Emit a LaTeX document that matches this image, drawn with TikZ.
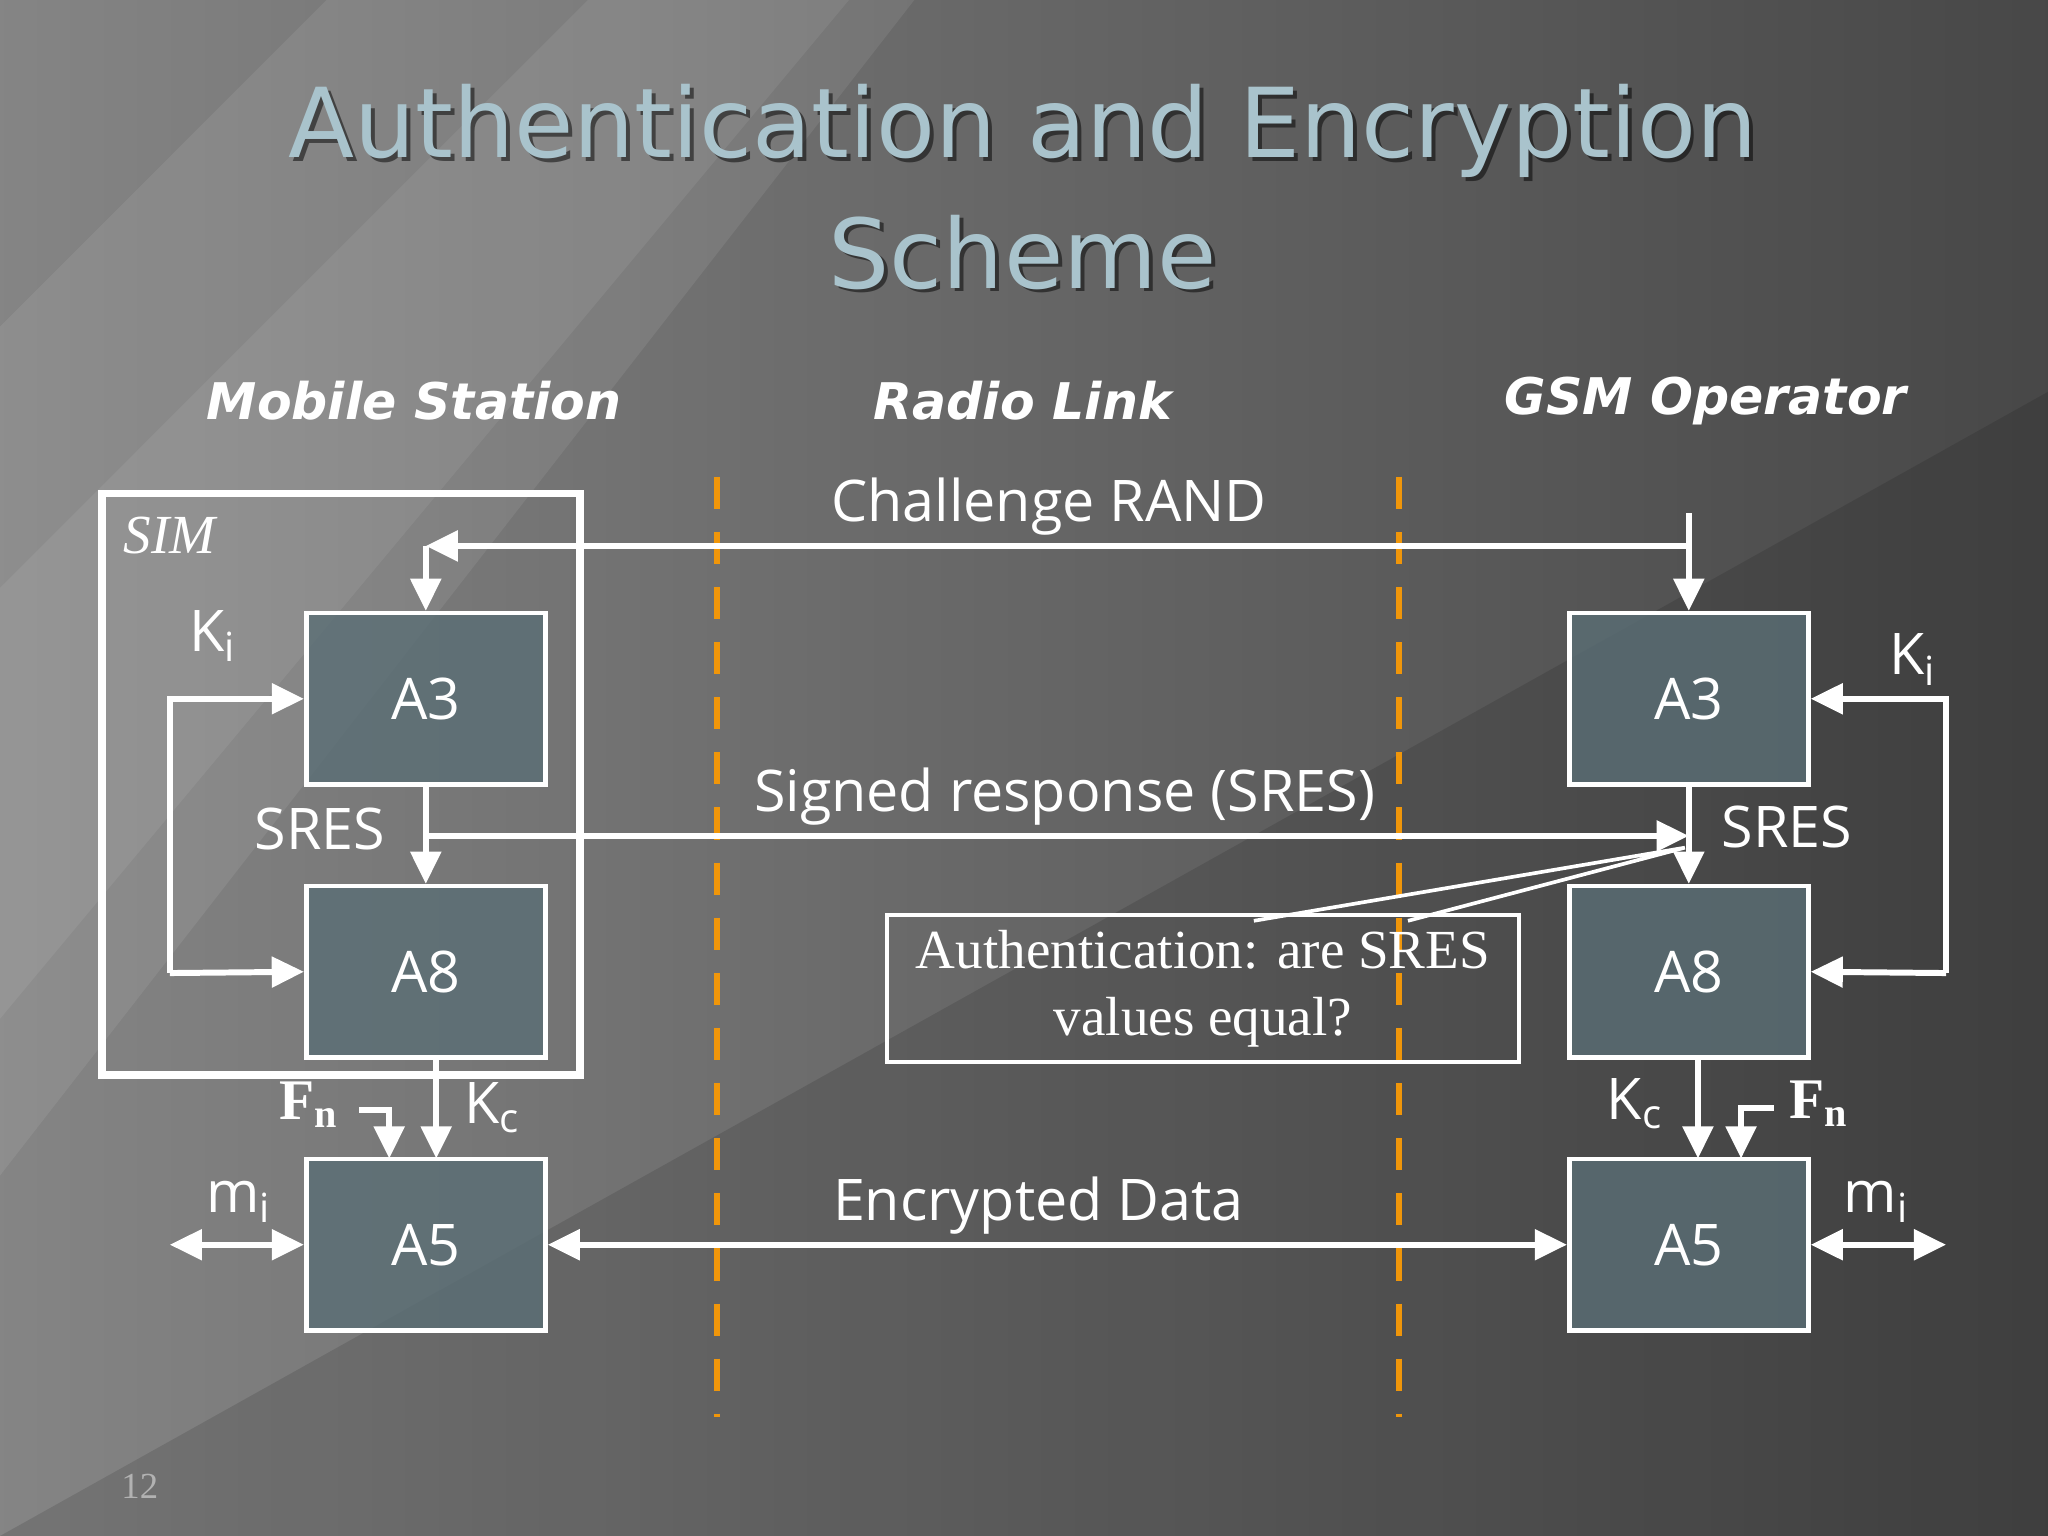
\documentclass[tikz,border=0pt]{standalone}
\usepackage{fontspec}
\setmainfont{Open Sans}
\newfontfamily\ttl{DejaVu Sans}
\newfontfamily\hdr{DejaVu Sans}
\newfontfamily\srf{Liberation Serif}
\usetikzlibrary{arrows.meta,shadows}
\definecolor{boxf}{HTML}{5A6E75}
\definecolor{ttlc}{HTML}{A9C3CC}
\definecolor{org}{HTML}{F0960A}
\begin{document}
\begin{tikzpicture}[x=0.01cm,y=-0.01cm,
  blk/.style={draw=white,line width=1pt,fill=boxf,fill opacity=0.8,text opacity=1,text=white,minimum width=1.83cm,minimum height=1.31cm,font=\fontsize{12.5}{15}\selectfont},
  ln/.style={draw=white,line width=1.3pt},
  ar/.style={ln,-{Triangle[length=7pt,width=6.5pt]}},
  dar/.style={ln,{Triangle[length=7pt,width=6.5pt]}-{Triangle[length=7pt,width=6.5pt]}},
  lbl/.style={text=white,font=\fontsize{12.5}{15}\selectfont},
  hd/.style={text=white,font=\hdr\bfseries\itshape\fontsize{11}{13}\selectfont},
  dsh/.style={draw=org,line width=1.3pt,dash pattern=on 7pt off 5pt}]
\useasboundingbox (0,0) rectangle (1568,1176);
\shade[left color=black!48,right color=black!72] (0,0) rectangle (1568,1176);
\fill[white,opacity=0.08] (0,250) -- (250,0) -- (700,0) -- (0,900) -- cycle;
\fill[white,opacity=0.07] (0,450) -- (450,0) -- (650,0) -- (0,780) -- cycle;
\fill[black,opacity=0.12] (0,1176) -- (1568,300) -- (1568,1176) -- cycle;
% title
\foreach \dx/\c/\o in {3/black/0.5,0/ttlc/1}{
 \node[text=\c,opacity=\o,font=\ttl\fontsize{21}{25}\selectfont] at (783+\dx,100+\dx) {Authentication and Encryption};
 \node[text=\c,opacity=\o,font=\ttl\fontsize{21}{25}\selectfont] at (783+\dx,193+\dx) {Scheme};}
\node[hd] (h1) at (317,307) {Mobile Station};
\node[hd] (h2) at (783,307) {Radio Link};
\node[hd] (h3) at (1306,307) {GSM Operator};
% dashed lines
\draw[dsh] (549,365) -- (549,1085);
\draw[dsh] (1071,365) -- (1071,1085);
% SIM
\draw[white,line width=1.6pt] (78,378) rectangle (444,823);
\node[text=white,font=\srf\itshape\fontsize{12}{14}\selectfont] (sim) at (130,410) {SIM};
% blocks
\node[blk] (a3l) at (326,535) {A3};
\node[blk] (a8l) at (326,744) {A8};
\node[blk] (a5l) at (326,953) {A5};
\node[blk] (a3r) at (1293,535) {A3};
\node[blk] (a8r) at (1293,744) {A8};
\node[blk] (a5r) at (1293,953) {A5};
% challenge
\coordinate (cs) at (1293,393);
\coordinate (cj) at (1293,418);
\coordinate (cl) at (326,418);
\draw[ar] (cs) -- (a3r.north);
\draw[ar] (cj) -- (cl);
\draw[ar] (cl) -- (a3l.north);
\node[lbl] (chl) at (803,388) {Challenge RAND};
% Ki left
\coordinate (kl1) at (130,535);
\coordinate (kl2) at (130,745);
\draw[ar] (kl2) -- (kl1) -- (a3l.west);
\draw[ar] (kl2) -- (a8l.west);
\node[lbl] (kil) at (163,487) {K\textsubscript{i}};
% Ki right
\coordinate (kr1) at (1490,535);
\coordinate (kr2) at (1490,745);
\draw[ar] (kr2) -- (kr1) -- (a3r.east);
\draw[ar] (kr2) -- (a8r.east);
\node[lbl] (kir) at (1465,505) {K\textsubscript{i}};
% SRES
\draw[ar] (a3l.south) -- (a8l.north);
\draw[ar] (a3r.south) -- (a8r.north);
\coordinate (sl) at (326,640);
\coordinate (sr) at (1293,640);
\draw[ar] (sl) -- (sr);
\node[lbl] (srl) at (245,635) {SRES};
\node[lbl] (srr) at (1368,633) {SRES};
\node[lbl] (sgn) at (815,610) {Signed response (SRES)};
% callout
\node[draw=white,line width=0.8pt,minimum width=4.84cm,minimum height=1.05cm,text=white,align=center,font=\srf\fontsize{12}{14.5}\selectfont] (cal) at (921,757) {Authentication: are SRES\\values equal?};
\coordinate (ct) at (1290,649);
\draw[white,line width=0.8pt] (960,705) -- (ct) -- (1078,705);
% Fn / Kc left
\coordinate (kcl) at (334,809);
\draw[ar] (kcl) -- (334,887);
\coordinate (fl) at (275,850);
\draw[ar] (fl) -- (298,850) -- (298,887);
\node[text=white,font=\srf\bfseries\fontsize{12.5}{15}\selectfont] (fnl) at (237,846) {F\textsubscript{n}};
\node[lbl] (kcll) at (377,848) {K\textsubscript{c}};
% right
\coordinate (kcr) at (1300,809);
\draw[ar] (kcr) -- (1300,887);
\coordinate (fr) at (1358,848);
\draw[ar] (fr) -- (1333,848) -- (1333,887);
\node[text=white,font=\srf\bfseries\fontsize{12.5}{15}\selectfont] (fnr) at (1393,845) {F\textsubscript{n}};
\node[lbl] (kcrl) at (1252,845) {K\textsubscript{c}};
% data
\coordinate (ml) at (130,953);
\coordinate (mr) at (1490,953);
\draw[dar] (ml) -- (a5l.west);
\draw[dar] (a5l.east) -- (a5r.west);
\draw[dar] (a5r.east) -- (mr);
\node[lbl] (mil) at (183,920) {m\textsubscript{i}};
\node[lbl] (mir) at (1437,920) {m\textsubscript{i}};
\node[lbl] (enc) at (795,923) {Encrypted Data};
\node[text=black!30,font=\srf\fontsize{8}{10}\selectfont] (pg) at (107,1138) {12};
\end{tikzpicture}
\end{document}
